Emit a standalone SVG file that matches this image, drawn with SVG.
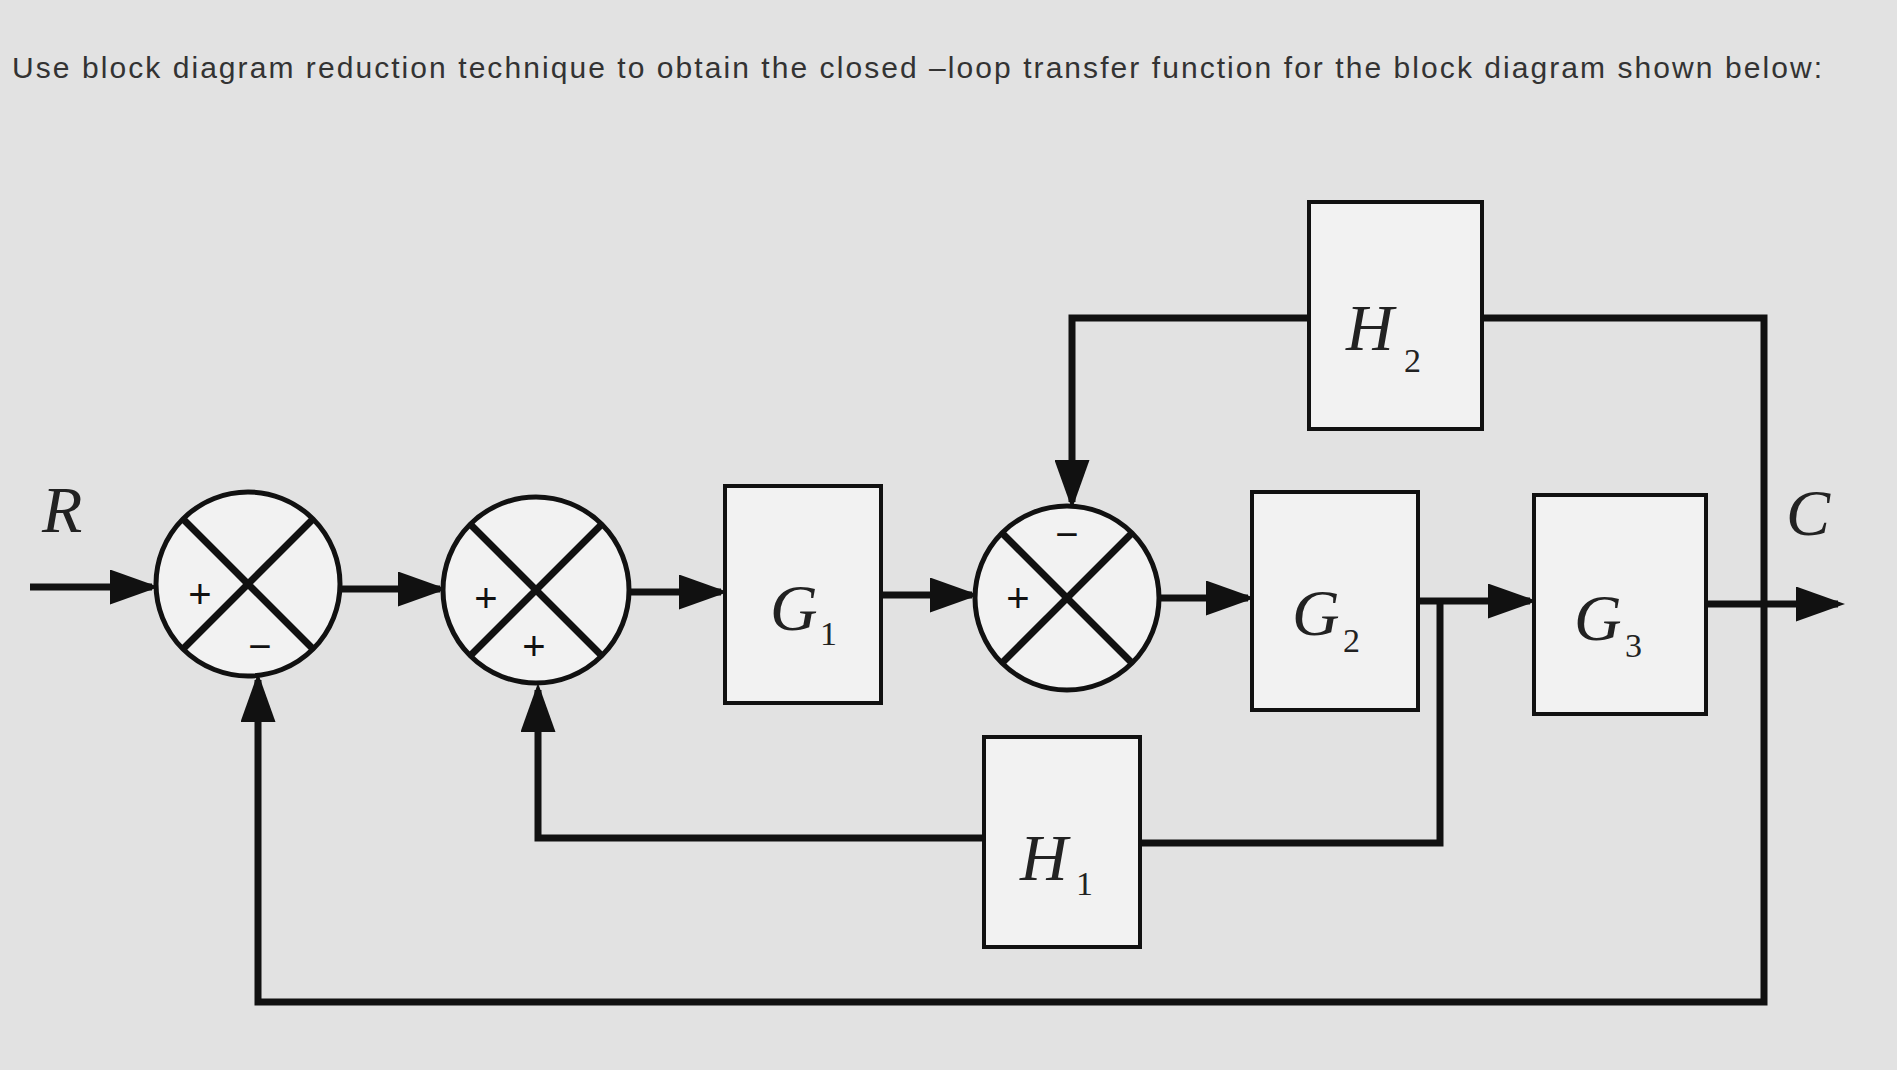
<svg xmlns="http://www.w3.org/2000/svg" width="1897" height="1070" viewBox="0 0 1897 1070">
<defs>
<marker id="ah" markerWidth="7" markerHeight="5" refX="6" refY="2.5" orient="auto" markerUnits="strokeWidth"><path d="M0,0 L7,2.5 L0,5 Z" fill="#111"/></marker>
<style>
.ln{fill:none;stroke:#111;stroke-width:7}
.bx{fill:#f2f2f2;stroke:#111;stroke-width:4}
.sj{fill:#f2f2f2;stroke:#111;stroke-width:5}
.lab{font-family:"Liberation Serif",serif;font-style:italic;font-size:66px;fill:#222}
.sub{font-family:"Liberation Serif",serif;font-size:34px;fill:#222}
.sg{font-family:"Liberation Sans",sans-serif;font-size:40px;fill:#111;text-anchor:middle}
</style>
</defs>
<rect width="1897" height="1070" fill="#e2e2e2"/>
<text x="12" y="78" font-family="Liberation Sans,sans-serif" font-size="30" fill="#333" textLength="1810" lengthAdjust="spacing">Use block diagram reduction technique to obtain the closed –loop transfer function for the block diagram shown below:</text>
<g id="connectors">
<path class="ln" d="M30,587 H152" marker-end="url(#ah)"/>
<path class="ln" d="M340,589 H440" marker-end="url(#ah)"/>
<path class="ln" d="M629,592 H721" marker-end="url(#ah)"/>
<path class="ln" d="M881,595 H972" marker-end="url(#ah)"/>
<path class="ln" d="M1159,598 H1248" marker-end="url(#ah)"/>
<path class="ln" d="M1418,601 H1530" marker-end="url(#ah)"/>
<path class="ln" d="M1706,604 H1838" marker-end="url(#ah)"/>
<path class="ln" d="M1309,318 H1072 V502" marker-end="url(#ah)"/>
<path class="ln" d="M1482,318 H1764 V1002 H258 V680" marker-end="url(#ah)"/>
<path class="ln" d="M1440,601 V843 H1140"/>
<path class="ln" d="M984,838 H538 V690" marker-end="url(#ah)"/>
</g>
<g id="S1"><circle class="sj" cx="248" cy="584" r="92"/><path class="ln" stroke-width="5" d="M183,519 L313,649 M313,519 L183,649"/><text class="sg" x="200" y="608">+</text><text class="sg" x="260" y="660">−</text></g>
<g id="S2"><circle class="sj" cx="536" cy="590" r="93"/><path class="ln" stroke-width="5" d="M470,524 L602,656 M602,524 L470,656"/><text class="sg" x="486" y="612">+</text><text class="sg" x="534" y="660">+</text></g>
<g id="S3"><circle class="sj" cx="1067" cy="598" r="92"/><path class="ln" stroke-width="5" d="M1002,533 L1132,663 M1132,533 L1002,663"/><text class="sg" x="1018" y="612">+</text><text class="sg" x="1067" y="548">−</text></g>
<g id="G1"><rect class="bx" x="725" y="486" width="156" height="217"/><text class="lab" x="770" y="630">G</text><text class="sub" x="820" y="645">1</text></g>
<g id="G2"><rect class="bx" x="1252" y="492" width="166" height="218"/><text class="lab" x="1292" y="635">G</text><text class="sub" x="1343" y="652">2</text></g>
<g id="G3"><rect class="bx" x="1534" y="495" width="172" height="219"/><text class="lab" x="1574" y="640">G</text><text class="sub" x="1625" y="657">3</text></g>
<g id="H2"><rect class="bx" x="1309" y="202" width="173" height="227"/><text class="lab" x="1346" y="350">H</text><text class="sub" x="1404" y="372">2</text></g>
<g id="H1"><rect class="bx" x="984" y="737" width="156" height="210"/><text class="lab" x="1020" y="880">H</text><text class="sub" x="1076" y="895">1</text></g>
<text class="lab" x="42" y="532">R</text>
<text class="lab" x="1786" y="535">C</text>
</svg>
